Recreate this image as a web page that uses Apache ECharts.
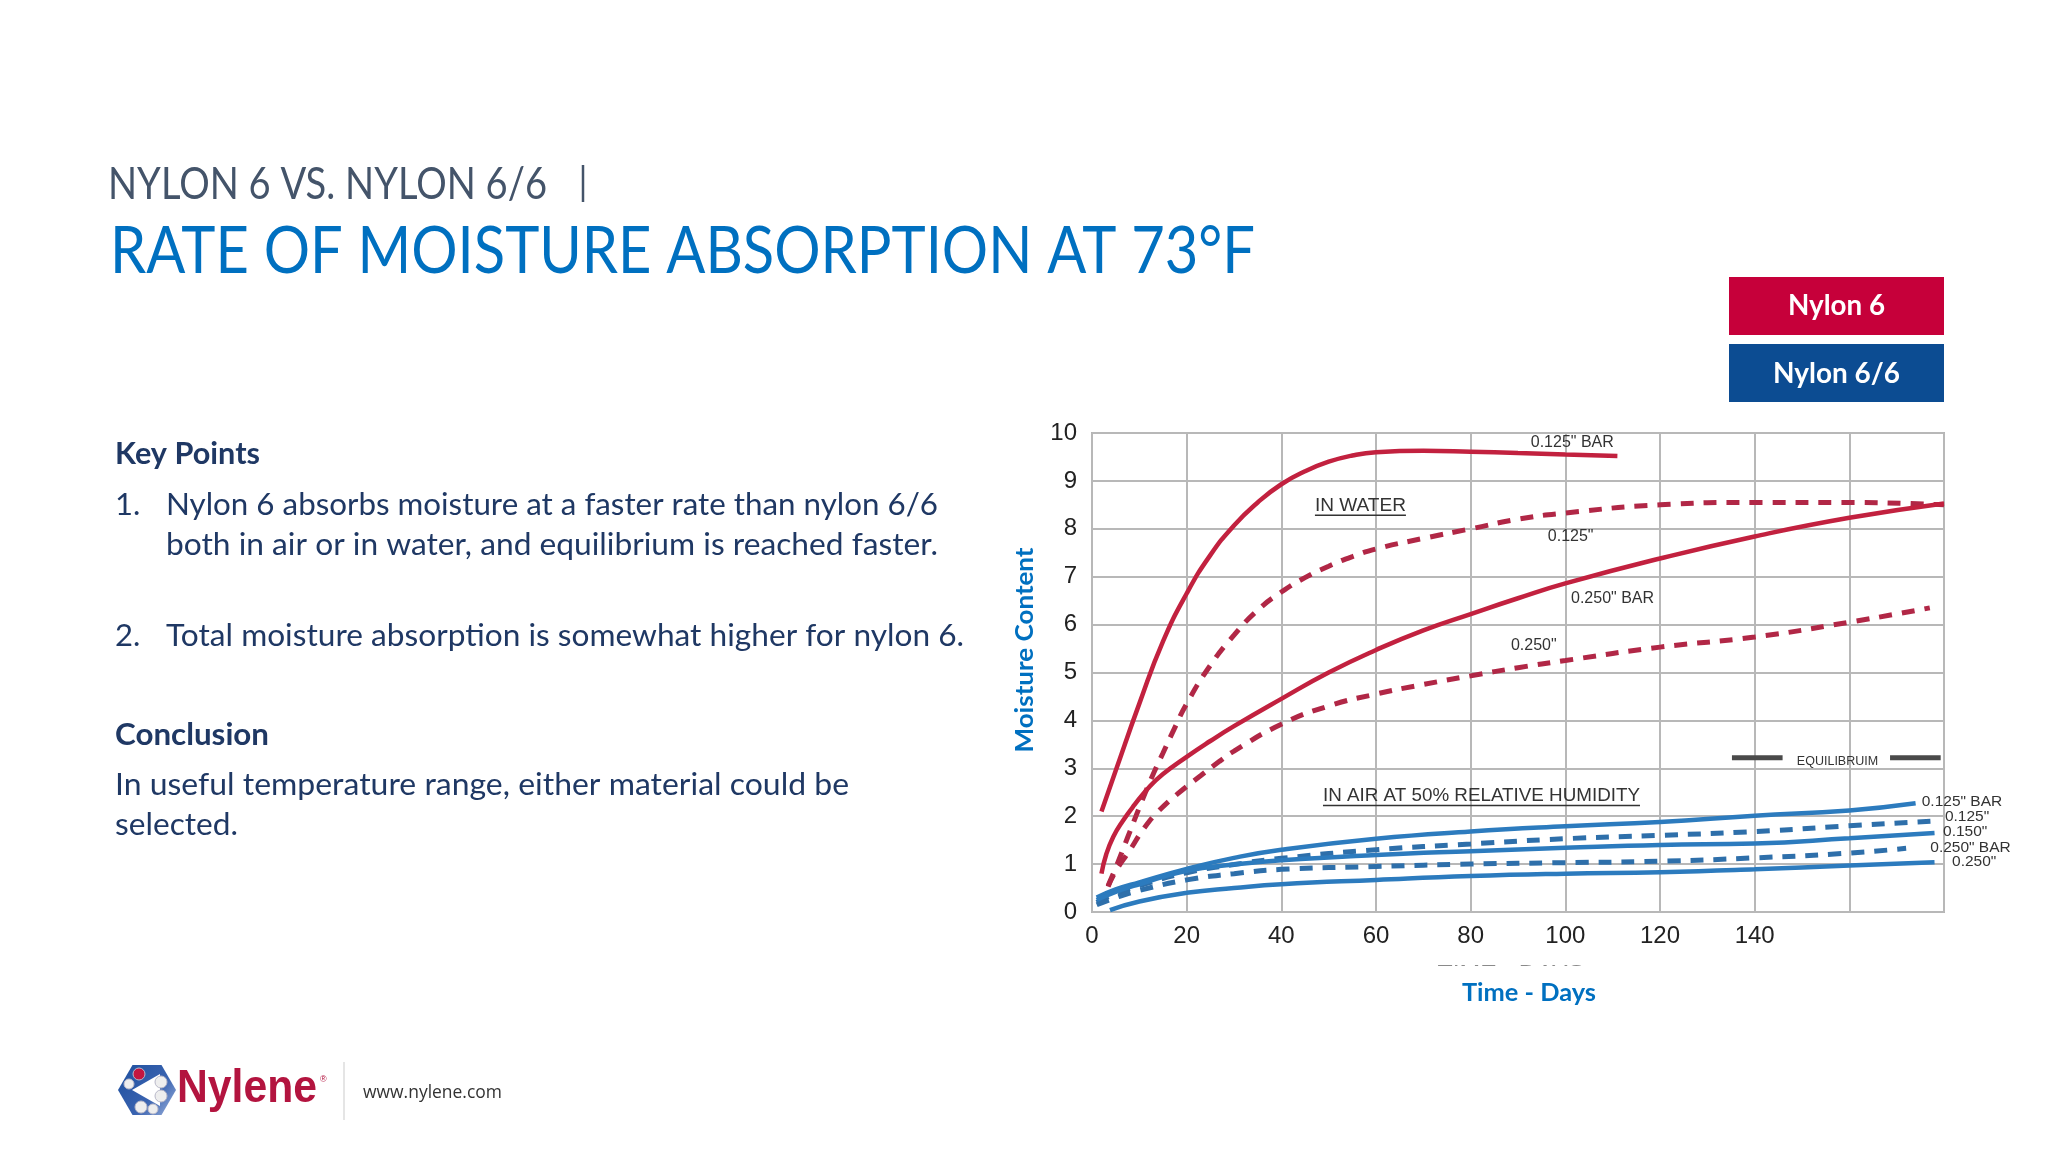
<!DOCTYPE html>
<html><head><meta charset="utf-8">
<script src="https://cdn.jsdelivr.net/npm/echarts@6/dist/echarts.min.js"></script>
<style>html,body{margin:0;padding:0;background:#fff}#c{width:2048px;height:1152px}</style>
</head><body><div id="c"></div>
<script>
// ---------- DATA ----------
const xTickValues = [0, 20, 40, 60, 80, 100, 120, 140, 160, 180];
const xTickLabels = ['0', '20', '40', '60', '80', '100', '120', '140', '', ''];

// Nylon 6 in water [day, moisture %]
const n6Water125Bar = [[2,2.1],[5,2.95],[10,4.35],[15,5.65],[20,6.65],[25,7.45],[30,8.07],[35,8.55],[40,8.93],[45,9.2],[50,9.4],[55,9.53],[60,9.6],[70,9.63],[80,9.61],[90,9.58],[100,9.55],[111,9.52]];
const n6Water125 = [[3.4,0.55],[5,0.92],[7.5,1.55],[10,2.18],[12.5,2.78],[15,3.32],[17.5,3.85],[20,4.35],[25,5.15],[30,5.78],[35,6.3],[40,6.68],[45,6.98],[50,7.22],[55,7.42],[60,7.58],[70,7.8],[80,8.0],[90,8.2],[100,8.33],[120,8.5],[140,8.55],[160,8.55],[180,8.5]];
const n6Water250Bar = [[2,0.8],[3,1.2],[4.5,1.57],[6.5,1.9],[9,2.24],[12,2.6],[15,2.88],[20,3.24],[25,3.57],[30,3.88],[40,4.45],[50,5.0],[60,5.47],[70,5.88],[80,6.22],[90,6.55],[100,6.86],[120,7.38],[140,7.84],[160,8.23],[180,8.53]];
const n6Water250 = [[3.4,0.53],[5,0.85],[8,1.29],[11,1.75],[14,2.1],[18,2.46],[23,2.85],[27,3.15],[30,3.36],[40,3.92],[50,4.3],[60,4.55],[70,4.75],[80,4.93],[90,5.1],[100,5.25],[120,5.53],[140,5.74],[160,6.05],[177,6.35]];

// Nylon 6/6 in air at 50% RH
const n66Air125Bar = [[1,0.3],[5,0.47],[10,0.62],[20,0.9],[30,1.13],[40,1.3],[60,1.53],[80,1.68],[100,1.79],[120,1.88],[140,2.01],[160,2.12],[174,2.27]];
const n66Air125 = [[1,0.2],[5,0.38],[10,0.55],[20,0.82],[30,0.99],[40,1.12],[60,1.3],[80,1.42],[100,1.53],[120,1.6],[140,1.68],[160,1.8],[178,1.9]];
const n66Air150 = [[1,0.25],[5,0.42],[10,0.58],[20,0.86],[30,0.99],[40,1.08],[60,1.19],[80,1.27],[100,1.34],[120,1.4],[140,1.43],[160,1.54],[178,1.65]];
const n66Air250Bar = [[1,0.15],[5,0.3],[10,0.45],[20,0.67],[30,0.8],[40,0.89],[60,0.95],[80,1.0],[100,1.03],[120,1.06],[140,1.13],[160,1.23],[172,1.33]];
const n66Air250 = [[3.8,0.04],[10,0.22],[20,0.4],[30,0.5],[40,0.58],[60,0.67],[80,0.75],[100,0.8],[120,0.83],[140,0.89],[160,0.97],[178,1.04]];

// Equilibrium key segments
const equilibriumKeyA = [[135.2,3.22],[145.9,3.22]];
const equilibriumKeyB = [[168.6,3.22],[179.3,3.22]];

// In-chart annotations: [day, value, text]
const waterLabels = [[92.7,9.8,'0.125" BAR'],[96.3,7.83,'0.125"'],[101.2,6.55,'0.250" BAR'],[88.5,5.57,'0.250"']];
const airLabels = [[175.3,2.30,'0.125" BAR'],[180.2,1.98,'0.125"'],[179.8,1.67,'0.150"'],[177.1,1.34,'0.250" BAR'],[181.7,1.04,'0.250"']];
const headings = [[47.1,8.49,'IN WATER'],[48.8,2.43,'IN AIR AT 50% RELATIVE HUMIDITY']];
const equilibriumText = [157.5,3.14,'EQUILIBRUIM'];

// Slide text
const subtitle = 'NYLON 6 VS. NYLON 6/6';
const title = 'RATE OF MOISTURE ABSORPTION AT 73°F';
const legendNames = ['Nylon 6', 'Nylon 6/6'];
const yName = 'Moisture Content';
const xName = 'Time - Days';
const bodyLines = [
  ['Key Points', true], ['1.', false], ['Nylon 6 absorbs moisture at a faster rate than nylon 6/6', false],
  ['both in air or in water, and equilibrium is reached faster.', false], ['2.', false],
  ['Total moisture absorption is somewhat higher for nylon 6.', false], ['Conclusion', true],
  ['In useful temperature range, either material could be', false], ['selected.', false]
];
const footerUrl = 'www.nylene.com';

// ---------- CHART ----------
const RED = '#C2213F', RED_D = '#B12746', BLUE = '#2C7BBE', BLUE_D = '#2E6FAA';
const chart = echarts.init(document.getElementById('c'), null, {renderer: 'canvas'});

function lineSeries(name, data, color, dashed, width) {
  return {
    name, type: 'line', data, smooth: 0.5, symbol: 'none', clip: false,
    lineStyle: {color, width, type: dashed ? [13, 10] : 'solid', cap: 'butt'},
    z: dashed ? 3 : 4, silent: true
  };
}

chart.setOption({
  animation: false,
  backgroundColor: '#ffffff',
  grid: {left: 1092, top: 433, width: 852, height: 479, show: true, borderColor: '#b3b3b3', borderWidth: 2, backgroundColor: '#fff'},
  xAxis: {
    type: 'value', min: 0, max: 180, interval: 20,
    axisLine: {show: false}, axisTick: {show: false},
    splitLine: {show: true, lineStyle: {color: '#b8b8b8', width: 2}},
    axisLabel: {margin: 12, color: '#222', fontSize: 24, fontFamily: 'Liberation Sans',
      formatter: v => xTickLabels[xTickValues.indexOf(v)] ?? ''}
  },
  yAxis: {
    type: 'value', min: 0, max: 10, interval: 1,
    axisLine: {show: false}, axisTick: {show: false},
    splitLine: {show: true, lineStyle: {color: '#b8b8b8', width: 2}},
    axisLabel: {margin: 15, color: '#222', fontSize: 24, fontFamily: 'Liberation Sans'}
  },
  series: [
    lineSeries('N6 0.125 BAR', n6Water125Bar, RED, false, 4.5),
    lineSeries('N6 0.125', n6Water125, RED_D, true, 5),
    lineSeries('N6 0.250 BAR', n6Water250Bar, RED, false, 4.5),
    lineSeries('N6 0.250', n6Water250, RED_D, true, 5),
    lineSeries('N66 0.125 BAR', n66Air125Bar, BLUE, false, 4.5),
    lineSeries('N66 0.125', n66Air125, BLUE_D, true, 5),
    lineSeries('N66 0.150', n66Air150, BLUE, false, 4.5),
    lineSeries('N66 0.250 BAR', n66Air250Bar, BLUE_D, true, 5),
    lineSeries('N66 0.250', n66Air250, BLUE, false, 4.5),
    {type: 'line', data: equilibriumKeyA, symbol: 'none', lineStyle: {color: '#4a4a4a', width: 5}, silent: true},
    {type: 'line', data: equilibriumKeyB, symbol: 'none', lineStyle: {color: '#4a4a4a', width: 5}, clip: false, silent: true}
  ]
});

// ---------- TEXT / DECORATION ----------
const mctx = document.createElement('canvas').getContext('2d');
function measure(text, size, weight, family) {
  mctx.font = `${weight} ${size}px "${family}"`;
  return mctx.measureText(text).width;
}
function T(text, x, y, o) {
  const family = o.family || 'Lato', weight = o.weight || 'normal';
  const w = measure(text, o.size, weight, family);
  const sx = o.width ? o.width / w : 1;
  return {
    type: 'text', x, y, scaleX: sx, rotation: o.rotation || 0, z: 10, silent: true,
    style: {text, fontSize: o.size, fontFamily: family, fontWeight: weight, fill: o.color || '#222',
      textAlign: o.align || 'left', textVerticalAlign: o.valign || 'middle'}
  };
}
const px = (d, v) => chart.convertToPixel({gridIndex: 0}, [d, v]);

const g = [];
// Title
g.push(T(subtitle, 108, 184, {size: 45, color: '#44546A', width: 439}));
g.push({type: 'line', shape: {x1: 583, y1: 165, x2: 583, y2: 202}, style: {stroke: '#44546A', lineWidth: 2.5}, silent: true});
g.push(T(title, 110, 252, {size: 66, color: '#0070C0', width: 1145}));

// Legend boxes
g.push({type: 'rect', shape: {x: 1729, y: 277, width: 215, height: 58}, style: {fill: '#C6003A'}, silent: true});
g.push({type: 'rect', shape: {x: 1729, y: 344, width: 215, height: 58}, style: {fill: '#0C4C92'}, silent: true});
g.push(T(legendNames[0], 1836.5, 306, {size: 29, weight: 'bold', color: '#fff', align: 'center', width: 97}));
g.push(T(legendNames[1], 1836.5, 373.5, {size: 29, weight: 'bold', color: '#fff', align: 'center', width: 127}));

// Body text
const NAVY = '#1F3864';
const bodyLayout = [[115,454,145],[115,505,null],[166,505,772],[166,545,772],[115,636,null],[166,636,798],[115,735,154],[115,785,734],[115,825,123]];
bodyLines.forEach((l, i) => {
  const [x, y, w] = bodyLayout[i];
  g.push(T(l[0], x, y, {size: 31, weight: l[1] ? 'bold' : 'normal', color: NAVY, width: w}));
});

// Axis names
g.push(T(yName, 1025, 650, {size: 24, weight: 'bold', color: '#0070C0', align: 'center', rotation: Math.PI / 2, width: 205}));
g.push(T(xName, 1529, 993, {size: 24, weight: 'bold', color: '#0070C0', align: 'center', width: 134}));
// clipped original axis title sliver
g.push(T('TIME - DAYS', 1511, 974, {size: 22, family: 'Liberation Sans', color: '#8a8a8a', align: 'center', width: 147}));
g.push({type: 'rect', shape: {x: 1420, y: 966, width: 190, height: 16}, style: {fill: '#fff'}, z: 11, silent: true});

// In-chart annotations
const AF = 'Liberation Sans';
waterLabels.forEach(([d, v, t]) => { const p = px(d, v); g.push(T(t, p[0], p[1], {size: 16, family: AF, color: '#333'})); });
airLabels.forEach(([d, v, t]) => { const p = px(d, v); g.push(T(t, p[0], p[1], {size: 15.5, family: AF, color: '#333'})); });
const headingWidths = [91, 317];
headings.forEach(([d, v, t], i) => {
  const p = px(d, v);
  g.push(T(t, p[0], p[1], {size: 19, family: AF, color: '#333', width: headingWidths[i]}));
  g.push({type: 'line', shape: {x1: p[0], y1: p[1] + 10, x2: p[0] + headingWidths[i], y2: p[1] + 10}, style: {stroke: '#333', lineWidth: 1.5}, z: 10, silent: true});
});
{ const p = px(equilibriumText[0], equilibriumText[1]); g.push(T(equilibriumText[2], p[0], p[1], {size: 12.5, family: AF, color: '#333', align: 'center'})); }

// Footer logo
const cx = 147, cy = 1090, R = 29;
const hex = [];
for (let i = 0; i < 6; i++) { const a = Math.PI / 3 * i; hex.push([cx + R * Math.cos(a), cy + R * Math.sin(a)]); }
g.push({type: 'polygon', shape: {points: hex}, style: {fill: new echarts.graphic.LinearGradient(0, 0, 1, 1, [{offset: 0, color: '#1D4F9E'}, {offset: 0.6, color: '#3A63B0'}, {offset: 1, color: '#9DB3DD'}])}, silent: true});
g.push({type: 'polygon', shape: {points: [[cx - 15, cy], [cx + 13, cy - 16], [cx + 13, cy + 16]]}, style: {fill: '#fff'}, silent: true});
[[cx - 8, cy - 16, 6, '#C3163F'], [cx + 14, cy - 8, 6, '#eee'], [cx + 14, cy + 6, 6, '#eee'], [cx - 6, cy + 17, 6, '#eee'], [cx + 6, cy + 19, 5, '#eee'], [cx - 18, cy - 6, 5, '#eee']]
  .forEach(([x, y, r, c]) => g.push({type: 'circle', shape: {cx: x, cy: y, r}, style: {fill: c, stroke: '#b9b9c9', lineWidth: 1}, silent: true}));
g.push(T('Nylene', 177, 1089, {size: 46, weight: 'bold', family: 'Liberation Sans', color: '#B3143F', width: 140}));
g.push(T('®', 320, 1080, {size: 9, family: 'Liberation Sans', color: '#B3143F'}));
g.push({type: 'line', shape: {x1: 344, y1: 1062, x2: 344, y2: 1120}, style: {stroke: '#dcdcdc', lineWidth: 1.5}, silent: true});
g.push(T(footerUrl, 363, 1093, {size: 18, family: 'Open Sans', color: '#333', width: 139}));

chart.setOption({graphic: {elements: g}});
</script></body></html>
